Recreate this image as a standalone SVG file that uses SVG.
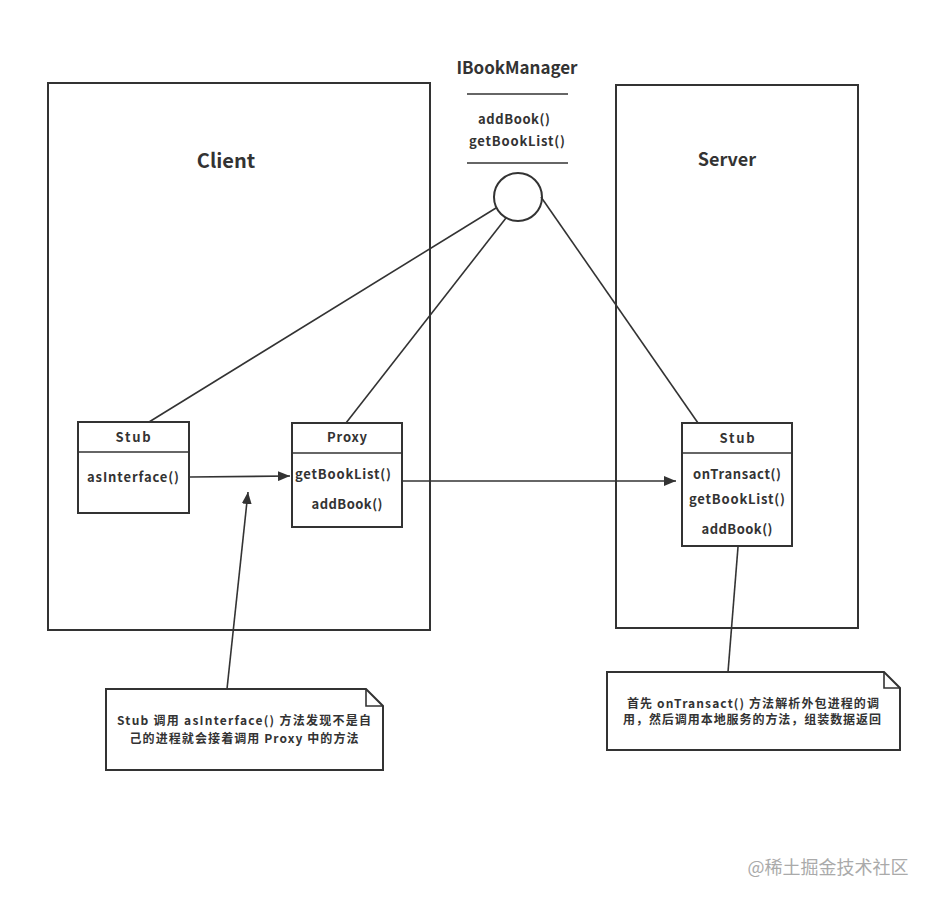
<svg xmlns="http://www.w3.org/2000/svg" width="933" height="903" viewBox="0 0 933 903">
<style>
text{font-family:"Noto Sans CJK SC","Liberation Sans",sans-serif;font-weight:bold;fill:#333;text-anchor:middle}
.box{fill:#fff;stroke:#333;stroke-width:2}
.ln{stroke:#333;stroke-width:1.6;fill:none}
.m{font-size:13px}
.n{font-size:12px}
</style>
<defs>
<marker id="ah" markerWidth="12" markerHeight="10" refX="12" refY="5" orient="auto" markerUnits="userSpaceOnUse">
<path d="M0,0 L12,5 L0,10 Z" fill="#333"/>
</marker>
</defs>
<rect width="933" height="903" fill="#fff"/>
<g id="client">
<rect class="box" x="48" y="83" width="382" height="547"/>
<text x="226" y="168" style="font-size:20px">Client</text>
</g>
<g id="server">
<rect class="box" x="616" y="85" width="242" height="543"/>
<text x="727" y="166" style="font-size:18px">Server</text>
</g>
<g id="ibookmanager">
<text x="517" y="74" style="font-size:17px" textLength="121" lengthAdjust="spacing">IBookManager</text>
<line class="ln" x1="467" y1="94" x2="568" y2="94" stroke-width="2"/>
<text class="m" x="514" y="124" textLength="72" lengthAdjust="spacing">addBook()</text>
<text class="m" x="517" y="146" textLength="96" lengthAdjust="spacing">getBookList()</text>
<line class="ln" x1="467" y1="163" x2="568" y2="163" stroke-width="2"/>
<circle class="box" cx="518" cy="197" r="24"/>
</g>
<g id="connectors">
<line class="ln" x1="496" y1="208" x2="149" y2="422"/>
<line class="ln" x1="506" y1="218" x2="346" y2="423"/>
<line class="ln" x1="541" y1="197" x2="698" y2="423"/>
<line class="ln" x1="190" y1="477" x2="290" y2="476" marker-end="url(#ah)"/>
<line class="ln" x1="403" y1="481" x2="676" y2="481" marker-end="url(#ah)"/>
<line class="ln" x1="227" y1="689" x2="248" y2="492" marker-end="url(#ah)"/>
<line class="ln" x1="728" y1="672" x2="738" y2="547"/>
</g>
<g id="client-stub">
<rect class="box" x="78" y="422" width="111" height="91"/>
<line class="ln" x1="78" y1="452" x2="189" y2="452" stroke-width="2"/>
<text class="m" x="133" y="442" textLength="35" lengthAdjust="spacing">Stub</text>
<text class="m" x="133" y="482" textLength="92" lengthAdjust="spacing">asInterface()</text>
</g>
<g id="proxy">
<rect class="box" x="292" y="423" width="110" height="104"/>
<line class="ln" x1="292" y1="453" x2="402" y2="453" stroke-width="2"/>
<text class="m" x="347" y="442" textLength="40" lengthAdjust="spacing">Proxy</text>
<text class="m" x="343" y="479" textLength="96" lengthAdjust="spacing">getBookList()</text>
<text class="m" x="347" y="509" textLength="71" lengthAdjust="spacing">addBook()</text>
</g>
<g id="server-stub">
<rect class="box" x="682" y="423" width="110" height="123"/>
<line class="ln" x1="682" y1="453" x2="792" y2="453" stroke-width="2"/>
<text class="m" x="737" y="443" textLength="35" lengthAdjust="spacing">Stub</text>
<text class="m" x="737" y="479" textLength="88" lengthAdjust="spacing">onTransact()</text>
<text class="m" x="737" y="504" textLength="96" lengthAdjust="spacing">getBookList()</text>
<text class="m" x="737" y="534" textLength="71" lengthAdjust="spacing">addBook()</text>
</g>
<g id="note-client">
<path class="box" d="M106,689 L366,689 L383,706 L383,770 L106,770 Z"/>
<path class="ln" d="M366,689 L366,706 L383,706" stroke-width="2"/>
<text class="n" x="244" y="725" textLength="254" lengthAdjust="spacing">Stub 调用 asInterface() 方法发现不是自</text>
<text class="n" x="244" y="743" textLength="229" lengthAdjust="spacing">己的进程就会接着调用 Proxy 中的方法</text>
</g>
<g id="note-server">
<path class="box" d="M607,672 L884,672 L900,688 L900,750 L607,750 Z"/>
<path class="ln" d="M884,672 L884,688 L900,688" stroke-width="2"/>
<text class="n" x="753" y="708" textLength="252" lengthAdjust="spacing">首先 onTransact() 方法解析外包进程的调</text>
<text class="n" x="752" y="724" textLength="258" lengthAdjust="spacing">用，然后调用本地服务的方法，组装数据返回</text>
</g>
<text x="828" y="874" style="font-size:18px;font-weight:normal;fill:#aaa">@稀土掘金技术社区</text>
</svg>
